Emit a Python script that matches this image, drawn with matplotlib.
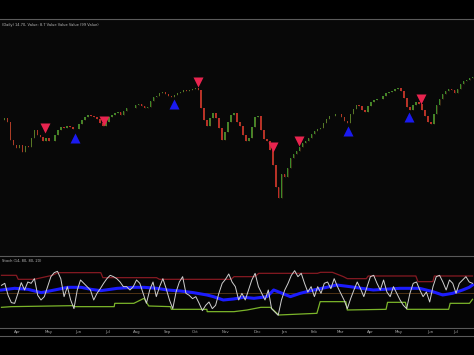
import numpy as np
import matplotlib
matplotlib.use("Agg")
import matplotlib.pyplot as plt

# daily closes (one per candle)
closes = [
    280, 282, 278, 260, 255, 252, 255, 248, 254, 253,
    262, 270, 265, 263, 259, 262, 259, 259, 265, 270,
    273, 272, 274, 273, 271, 271, 276, 280, 283, 285,
    284, 283, 281, 277, 274, 278, 283, 285, 287, 288,
    285, 289, 292, 292, 292, 295, 296, 294, 292, 293,
    299, 303, 304, 307, 308, 306, 304, 303, 305, 307,
    308, 310, 309, 310, 311, 312, 310, 292, 280, 274,
    282, 287, 282, 272, 260, 268, 278, 285, 287, 278,
    274, 265, 259, 262, 273, 283, 284, 270, 261, 259,
    250, 235, 213, 202, 226, 223, 232, 242, 246, 249,
    253, 257, 259, 262, 266, 269, 271, 272, 277, 281,
    284, 284, 286, 286, 283, 279, 277, 286, 291, 295,
    294, 290, 288, 294, 298, 300, 301, 301, 304, 307,
    308, 309, 311, 312, 309, 302, 293, 290, 295, 298,
    296, 290, 284, 278, 276, 286, 295, 301, 306, 309,
    311, 310, 307, 311, 316, 319, 320, 322, 323,
]

# sell / buy signals (candle index, price)
sell_idx = [14.7, 34.3, 66, 91, 99.7, 140.7]
sell_px = [272, 279, 318, 253, 259, 301]
buy_idx = [24.7, 57.7, 116.3, 136.7]
buy_px = [262, 296, 269, 283]

# oscillator
osc = [
    57, 60, 42, 31, 30, 45, 61, 50, 62, 60,
    67, 42, 35, 40, 55, 70, 76, 78, 67, 40,
    55, 35, 22, 50, 65, 60, 55, 50, 35, 45,
    52, 60, 67, 72, 70, 67, 62, 55, 55, 50,
    55, 65, 60, 45, 30, 50, 62, 40, 55, 67,
    52, 35, 22, 47, 62, 70, 45, 42, 37, 40,
    30, 19, 27, 32, 22, 27, 45, 60, 66, 74,
    62,
    55, 35, 45, 35, 50, 65, 75, 55, 45, 35,
    50, 22, 17, 12, 35, 50, 60, 72, 79, 70,
    75, 60, 47, 55, 40, 55, 45, 60, 62, 52,
    67, 55, 45, 35, 22, 37, 50, 62, 52, 40,
    55, 70, 72, 60, 50, 65, 47, 40, 55, 45,
    35, 27, 22, 45, 60, 62, 50, 40, 47, 32,
    55, 70, 72, 62, 50, 65, 60, 45, 60, 65,
    70, 62, 60,
]

upper_x = [0, 5, 5.6, 11, 17, 19, 33.3, 34, 52, 53, 77, 78, 85, 86.3, 106, 107, 111, 114.7, 116, 122.4, 123, 139, 139.7, 144.7, 145.2, 158]
upper_v = [72, 72, 66, 66, 72, 76, 76, 68.5, 68.5, 66, 66, 70, 70, 75, 75, 76.5, 76.5, 70, 67, 67, 71, 71, 62.5, 62.5, 71, 71]

lower_x = [0, 3.3, 24, 24.5, 37.8, 38, 44.4, 47.8, 49.4, 56.7, 57, 68.9, 69, 78, 82.4, 87, 90.2, 93, 105.8, 106.9, 115.5, 116, 129, 129.5, 135.5, 136, 150, 150.5, 157, 158]
lower_v = [24, 25, 26.5, 25, 25, 30, 30, 37.5, 26, 25, 21, 21, 17.5, 17.5, 20, 24, 24, 12.5, 15, 32.5, 32.5, 20, 21, 31.5, 31.5, 21, 21, 30, 30, 36]

avg_x = [0, 4.4, 8.9, 13.3, 17.8, 22.2, 26.7, 30, 33.3, 38.9, 44.4, 47.8, 52.2, 55.6, 60, 64.4, 68.9, 71.1, 74.4, 77.8, 81.3, 84.7, 89.1, 91.3, 93.6, 96.9, 100.2, 104.7, 109.1, 112.4, 116.9, 124.7, 133.6, 140.2, 144.7, 148, 151.3, 154.7, 156.9, 158]
avg_v = [50, 52.5, 51, 46, 50, 54, 54, 51, 49, 52.5, 54, 54, 52.5, 50, 48.5, 46, 42.5, 40, 35, 36.5, 39, 37.5, 40, 50, 46, 40, 45, 50, 54, 57.5, 55, 50, 52.5, 52.5, 47.5, 42.5, 45, 50, 54, 57.5]

months = ["Apr", "May", "Jun", "Jul", "Aug", "Sep", "Oct", "Nov", "Dec",
          "Jan", "Feb", "Mar", "Apr", "May", "Jun", "Jul"]
month_idx = [5.3, 15.7, 25.7, 35.7, 45.3, 55.7, 65, 75, 85.7, 95,
             104.7, 113.7, 123.7, 133.3, 143.7, 152.3]

n = len(closes)
x = np.arange(n)
opens = np.array([closes[0]] + closes[:-1])
cl = np.array(closes)
up = cl >= opens

fig = plt.figure(figsize=(4.74, 3.55), dpi=100, facecolor="black")

ax = fig.add_axes([0, 0.2789, 1, 0.6676], facecolor="#080808")
ax.vlines(x, np.minimum(opens, cl), np.maximum(opens, cl), color="#8a5a22", linewidth=0.4, alpha=0.7)
ax.bar(x[up], (cl - opens)[up], bottom=opens[up], width=0.5, color="#3a8a2a", linewidth=0)
ax.bar(x[~up], (cl - opens)[~up], bottom=opens[~up], width=0.5, color="#c02a28", linewidth=0)
ax.scatter(sell_idx, sell_px, marker="v", s=52, color="#e8244f", linewidths=0, zorder=5)
ax.scatter(buy_idx, buy_px, marker="^", s=52, color="#1a1af0", linewidths=0, zorder=5)
ax.set_xlim(-0.5, n - 0.5)
ax.set_ylim(144, 381)
ax.set_xticks([])
ax.set_yticks([])
for s in ax.spines.values():
    s.set_visible(False)
ax.text(0.004, 0.985, "(Daily) 14.70, Value: 8.7 Value Value Value (99 Value)",
        transform=ax.transAxes, color="#bbbbbb", fontsize=2.6, va="top", ha="left")

ax2 = fig.add_axes([0, 0.0761, 1, 0.2028], facecolor="#050505")
ox = np.linspace(0, n - 1, len(osc))
ax2.axhline(45, color="#5a3a18", linewidth=0.6)
ax2.plot(upper_x, upper_v, color="#861a22", linewidth=0.9)
ax2.plot(lower_x, lower_v, color="#7bb52a", linewidth=0.9)
ax2.plot(avg_x, avg_v, color="#1c1cff", linewidth=2.2)
ax2.plot(ox, osc, color="#d0d0d0", linewidth=0.7)
ax2.set_xlim(-0.5, n - 0.5)
ax2.set_ylim(-7, 101)
ax2.set_yticks([])
ax2.set_xticks(month_idx)
ax2.set_xticklabels(months)
ax2.tick_params(axis="x", length=0, pad=1.2, labelsize=2.8, labelcolor="#aaaaaa")
for s in ax2.spines.values():
    s.set_visible(False)
ax2.text(0.004, 0.96, "Stoch (14, 80, 80, 20)", transform=ax2.transAxes,
         color="#bbbbbb", fontsize=2.6, va="top", ha="left")

# separator lines
for yy in [1 - 19 / 355, 1 - 256 / 355, 1 - 328 / 355, 1 - 336 / 355]:
    fig.add_artist(plt.Line2D([0, 1], [yy, yy], transform=fig.transFigure,
                              color="#5a5a5a", linewidth=0.8))

fig.savefig("out.png", dpi=100, facecolor="black")
